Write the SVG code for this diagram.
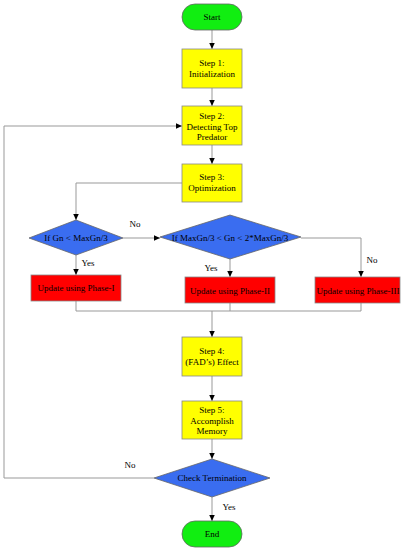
<svg xmlns="http://www.w3.org/2000/svg" width="409" height="550" viewBox="0 0 409 550">
<style>
text{font-family:"Liberation Serif","Times New Roman",serif;font-size:9px;fill:#000;text-anchor:middle}
.term{fill:#11ee11;stroke:#666;stroke-width:0.8}
.step{fill:#ffff00;stroke:#888;stroke-width:0.8}
.dec{fill:#3a6df0;stroke:#666;stroke-width:0.8}
.upd{fill:#ff0000;stroke:#888;stroke-width:0.8}
.ln{fill:none;stroke:#999;stroke-width:1}
</style>
<defs>
<marker id="ah" markerWidth="7" markerHeight="6" refX="6" refY="2.75" orient="auto" markerUnits="userSpaceOnUse">
<path d="M0,0 L6,2.75 L0,5.5 Z" fill="#000"/>
</marker>
</defs>
<rect width="409" height="550" fill="#fff"/>
<g id="connectors">
<path class="ln" d="M212,30 V49" marker-end="url(#ah)"/>
<path class="ln" d="M212,88 V106" marker-end="url(#ah)"/>
<path class="ln" d="M212,145 V164" marker-end="url(#ah)"/>
<path class="ln" d="M182,183 H76 V220" marker-end="url(#ah)"/>
<path class="ln" d="M123,238 H160" marker-end="url(#ah)"/>
<path class="ln" d="M76,255 V275" marker-end="url(#ah)"/>
<path class="ln" d="M230,259 V277" marker-end="url(#ah)"/>
<path class="ln" d="M301,238 H361 V277" marker-end="url(#ah)"/>
<path class="ln" d="M76,301 V311 H361 V303 M230,303 V311"/>
<path class="ln" d="M212,311 V337" marker-end="url(#ah)"/>
<path class="ln" d="M212,376 V401" marker-end="url(#ah)"/>
<path class="ln" d="M212,439 V459" marker-end="url(#ah)"/>
<path class="ln" d="M212,497 V521" marker-end="url(#ah)"/>
<path class="ln" d="M154,478 H4 V126 H182" marker-end="url(#ah)"/>
<text x="135" y="227">No</text>
<text x="372" y="263">No</text>
<text x="88" y="266">Yes</text>
<text x="211" y="271">Yes</text>
<text x="130" y="468">No</text>
<text x="229" y="510">Yes</text>
</g>
<g id="start"><rect class="term" x="182" y="4" width="60" height="26" rx="13"/><text x="212" y="20">Start</text></g>
<g id="step1"><rect class="step" x="182" y="49" width="60" height="39"/><text x="212" y="66">Step 1:</text><text x="212" y="77">Initialization</text></g>
<g id="step2"><rect class="step" x="182" y="106" width="60" height="39"/><text x="212" y="119">Step 2:</text><text x="212" y="129.5">Detecting Top</text><text x="212" y="140">Predator</text></g>
<g id="step3"><rect class="step" x="182" y="164" width="60" height="38"/><text x="212" y="180">Step 3:</text><text x="212" y="191">Optimization</text></g>
<g id="dec1"><polygon class="dec" points="76,220 123,238 76,255 29,238"/><text x="76" y="241">If Gn &lt; MaxGn/3</text></g>
<g id="dec2"><polygon class="dec" points="230,215 301,237 230,259 160,237"/><text x="230" y="241">If MaxGn/3 &lt; Gn &lt; 2*MaxGn/3</text></g>
<g id="upd1"><rect class="upd" x="31" y="275" width="90" height="26"/><text x="76" y="291">Update using Phase-I</text></g>
<g id="upd2"><rect class="upd" x="185" y="277" width="90" height="26"/><text x="230" y="294">Update using Phase-II</text></g>
<g id="upd3"><rect class="upd" x="315" y="277" width="85" height="26"/><text x="358" y="294">Update using Phase-III</text></g>
<g id="step4"><rect class="step" x="182" y="337" width="60" height="39"/><text x="212" y="354">Step 4:</text><text x="212" y="365">(FAD’s) Effect</text></g>
<g id="step5"><rect class="step" x="182" y="401" width="60" height="38"/><text x="212" y="413">Step 5:</text><text x="212" y="423.5">Accomplish</text><text x="212" y="434">Memory</text></g>
<g id="check"><polygon class="dec" points="212,459 270,478 212,497 154,478"/><text x="212" y="481">Check Termination</text></g>
<g id="end"><rect class="term" x="182" y="521" width="60" height="26" rx="13"/><text x="212" y="537">End</text></g>
</svg>
